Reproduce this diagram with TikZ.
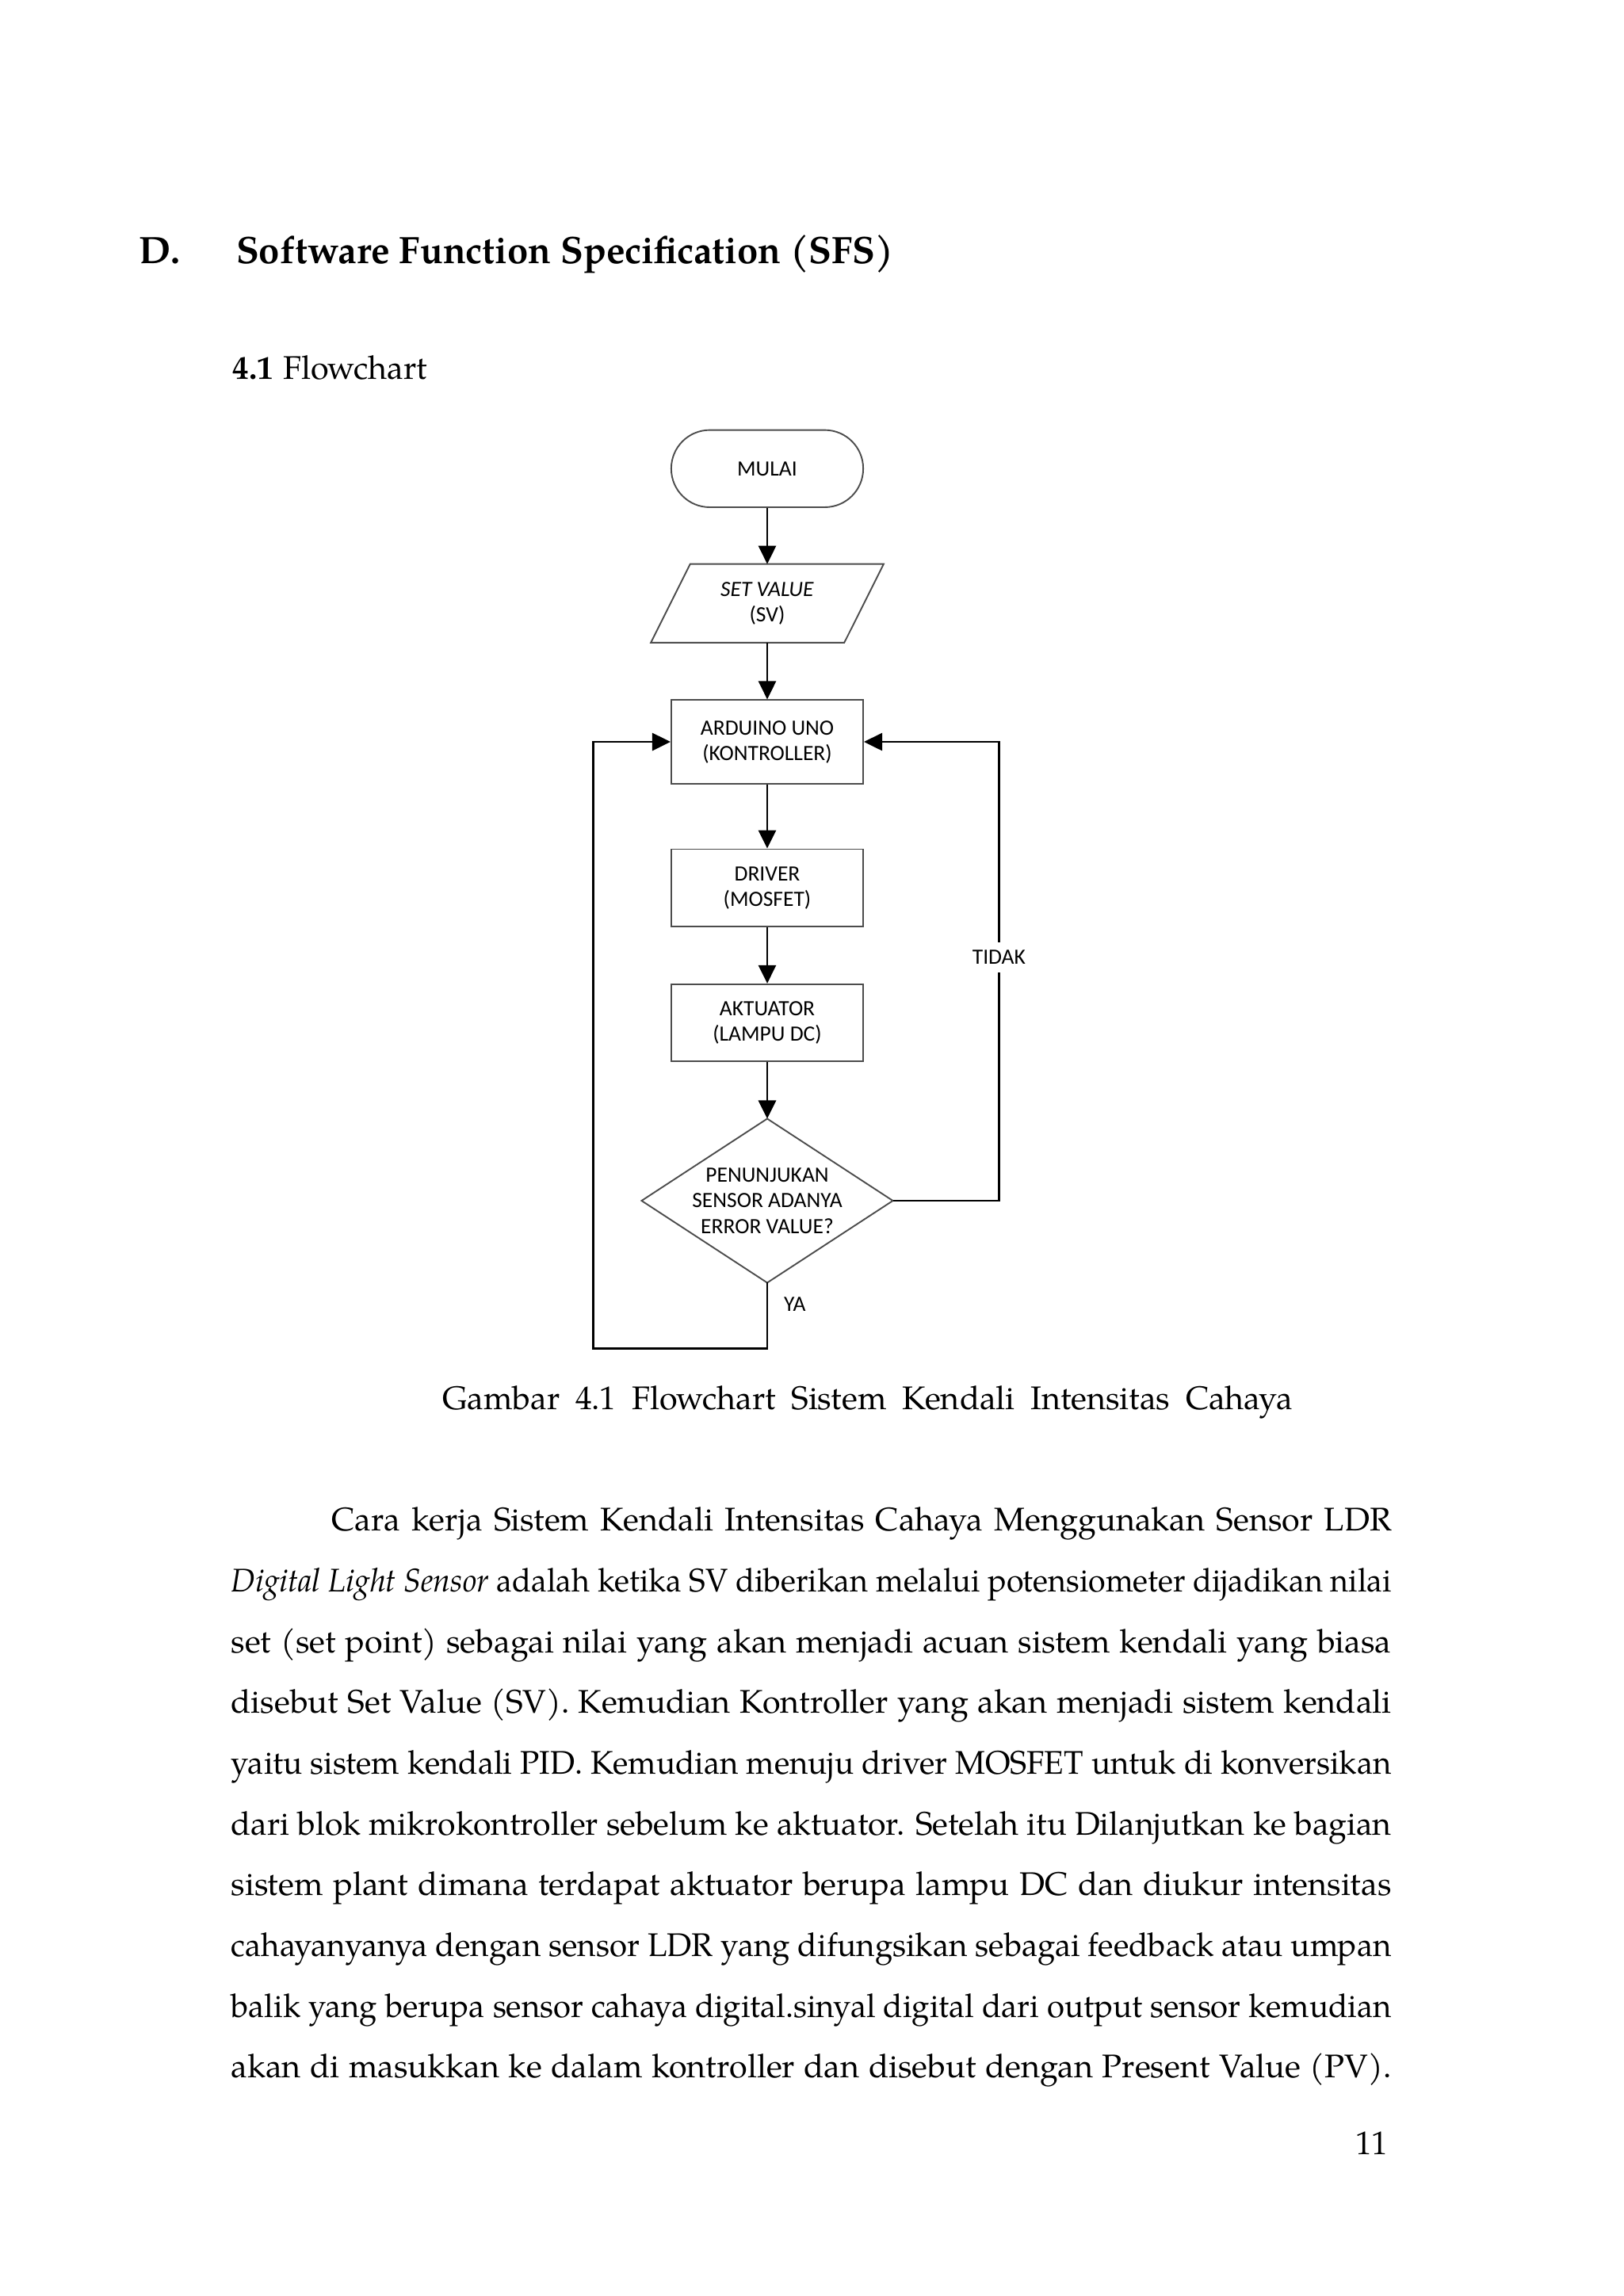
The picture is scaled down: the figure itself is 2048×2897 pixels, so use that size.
\documentclass[tikz,border=0pt]{standalone}
\usepackage{fontspec}
\setmainfont{TeX Gyre Pagella}
\newfontfamily\calibri{Carlito}
\usepackage{graphicx}
\usetikzlibrary{arrows.meta,calc}
% satu baris teks dibuat tepat selebar #1
\newlength\fitw
\newcommand\fitline[2]{%
	\settowidth\fitw{#2}%
	\ifdim\fitw>#1\relax
		\pgfmathsetmacro\fitscale{#1/\fitw}%
		\scalebox{\fitscale}[1]{#2}%
	\else
		\makebox[#1][s]{#2}%
	\fi}
\tikzset{
	kotak/.style={draw=black!70,line width=0.55pt,minimum width=70.4pt,minimum height=28.3pt,
		inner sep=0pt,align=center,font=\calibri\fontsize{8}{9.3}\selectfont},
	label/.style={inner sep=1pt,font=\calibri\fontsize{8}{9.3}\selectfont},
	tepi/.style={draw=black!70,line width=0.55pt},
	panah/.style={line width=0.85pt,-{Triangle[length=6.7pt,width=6.4pt]}},
	teks/.style={anchor=base west,inner sep=0pt,font=\fontsize{12}{14}\selectfont}
}
\begin{document}
\begin{tikzpicture}[x=0.290662pt,y=-0.290662pt]
	\useasboundingbox (0,0) rectangle (2048,2897);
	% judul
	\node[teks,font=\bfseries\fontsize{14}{17}\selectfont] (huruf) at (174.6,332.7) {D.};
	\node[teks,font=\bfseries\fontsize{14}{17}\selectfont] (judul) at (297.4,332.7)
		{\fitline{241.1pt}{Software Function Specification (SFS)}};
	\node[teks,font=\bfseries\fontsize{12}{14}\selectfont] (nomor) at (293,478) {4.1};
	\node[teks] (subjudul) at (356.7,478) {Flowchart};
	% flowchart
	\node[kotak,rounded corners=14.1pt] (mulai) at (968,591.3) {MULAI};
	\node[kotak,draw=none] (sv) at (968,761.3) {\textit{SET VALUE}\\(SV)};
	\draw[tepi] ($(sv.north west)+(24.85,0)$) -- ($(sv.north east)+(24.85,0)$)
		-- ($(sv.south east)-(24.85,0)$) -- ($(sv.south west)-(24.85,0)$) -- cycle;
	\node[kotak,minimum height=30.6pt] (ardu) at (968,936) {ARDUINO UNO\\(KONTROLLER)};
	\node[kotak] (driver) at (968,1120.2) {DRIVER\\(MOSFET)};
	\node[kotak] (aktuator) at (968,1290.5) {AKTUATOR\\(LAMPU DC)};
	\node[kotak,draw=none,minimum width=91.6pt,minimum height=59.6pt,
		font=\calibri\fontsize{8}{9.5}\selectfont] (cek) at (968,1515)
		{PENUNJUKAN\\SENSOR ADANYA\\ERROR VALUE?};
	\draw[tepi] (cek.north) -- (cek.east) -- (cek.south) -- (cek.west) -- cycle;
	\draw[panah] (mulai) -- (sv);
	\draw[panah] (sv) -- (ardu);
	\draw[panah] (ardu) -- (driver);
	\draw[panah] (driver) -- (aktuator);
	\draw[panah] (aktuator) -- (cek);
	\coordinate (kanan) at (1260.4,936);
	\draw[panah] (cek.east) -| (kanan) node[label,pos=0.765,fill=white,inner ysep=3pt] (tidak) {TIDAK}
		-- (ardu.east);
	\coordinate (bawah) at (968,1701.7);
	\coordinate (kiri) at (748.3,1701.7);
	\draw[panah] (cek.south) -- (bawah) -- (kiri) |- (ardu.west);
	\node[label,anchor=west] (ya) at (985,1646) {YA};
	% keterangan gambar
	\node[teks] (caption) at (557.4,1778.3)
		{\fitline{312pt}{Gambar 4.1 Flowchart Sistem Kendali Intensitas Cahaya}};
	% paragraf
	\node[teks] (baris1) at (418,1931.7)
		{\fitline{388.6pt}{Cara kerja Sistem Kendali Intensitas Cahaya Menggunakan Sensor LDR}};
	\foreach \i/\baris in {
		2/{\textit{Digital Light Sensor} adalah ketika SV diberikan melalui potensiometer dijadikan nilai},
		3/{set (set point) sebagai nilai yang akan menjadi acuan sistem kendali yang biasa},
		4/{disebut Set Value (SV). Kemudian Kontroller yang akan menjadi sistem kendali},
		5/{yaitu sistem kendali PID. Kemudian menuju driver MOSFET untuk di konversikan},
		6/{dari blok mikrokontroller sebelum ke aktuator. Setelah itu Dilanjutkan ke bagian},
		7/{sistem plant dimana terdapat aktuator berupa lampu DC dan diukur intensitas},
		8/{cahayanyanya dengan sensor LDR yang difungsikan sebagai feedback atau umpan},
		9/{balik yang berupa sensor cahaya digital.sinyal digital dari output sensor kemudian},
		10/{akan di masukkan ke dalam kontroller dan disebut dengan Present Value (PV).}}{
		\node[teks] (baris\i) at (291,{1931.7+76.67*(\i-1)}) {\fitline{425.5pt}{\baris}};}
	\node[teks,anchor=base east] (halaman) at (1752,2718) {11};
\end{tikzpicture}
\end{document}
